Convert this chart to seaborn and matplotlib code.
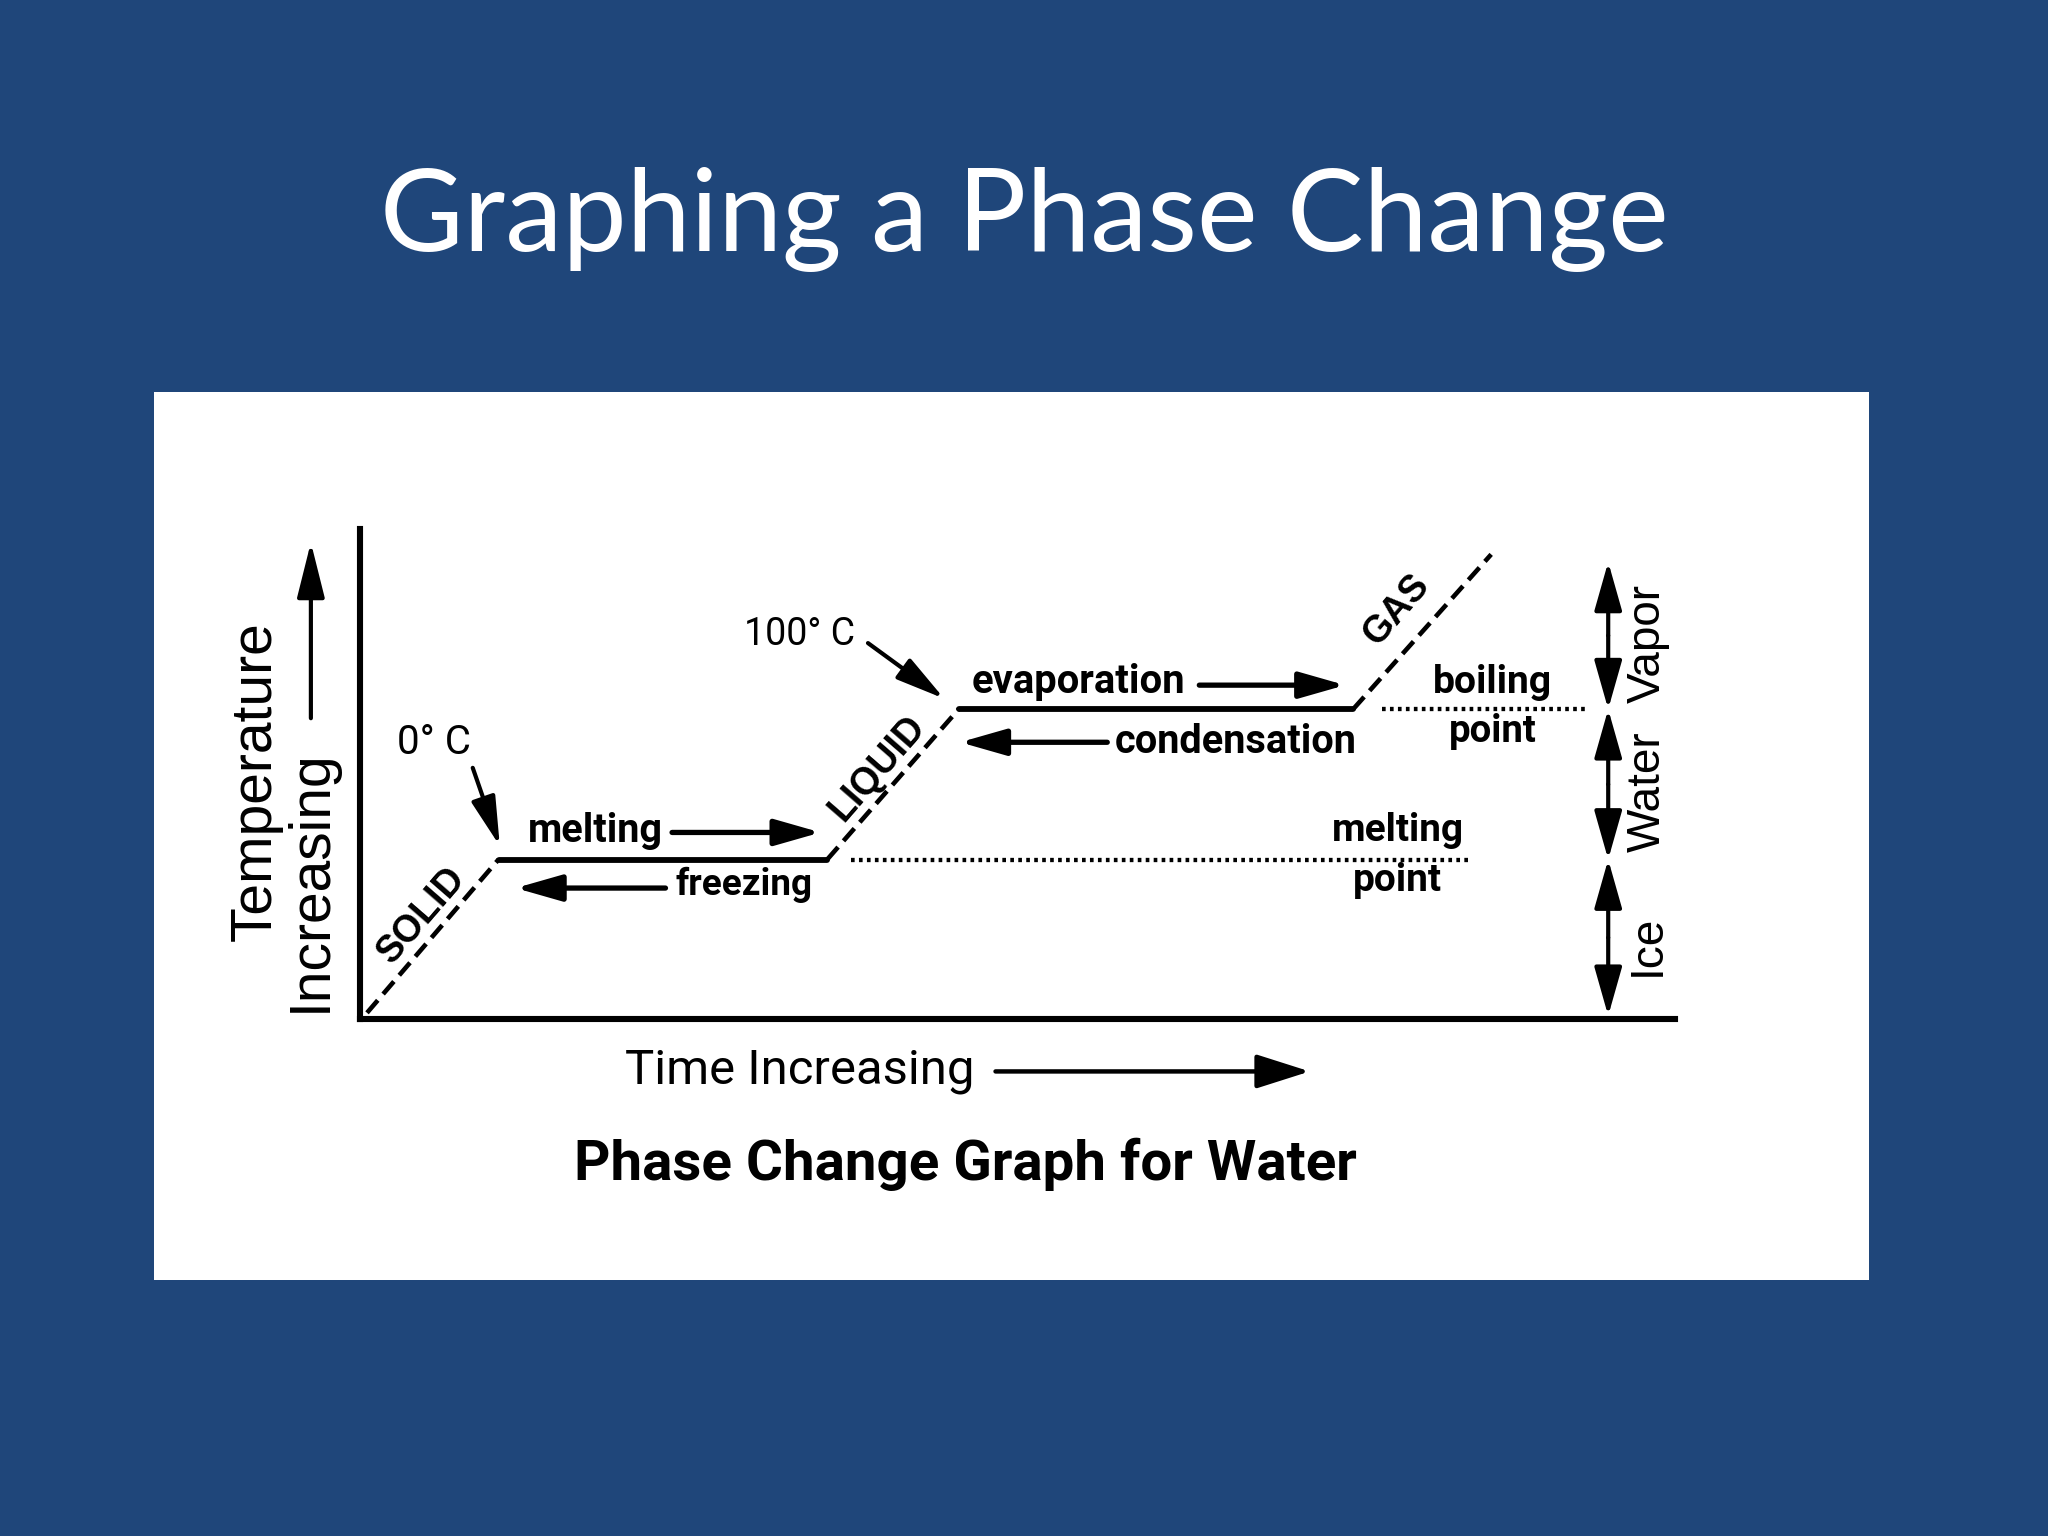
import numpy as np
import pandas as pd
import matplotlib
matplotlib.use("Agg")
import matplotlib.pyplot as plt
import seaborn as sns
from matplotlib.patches import Rectangle

sns.set_theme(style="white")
plt.rcParams['font.family'] = ['Liberation Sans', 'DejaVu Sans']
plt.rcParams['text.color'] = 'black'

# heating curve for water (time in arbitrary units, temperature in deg C)
time = [0.05, 1.05, 3.55, 4.55, 7.55, 8.6]
temp = [-102, 0, 0, 100, 100, 203]
melt_temp = 0
boil_temp = 100
melt_dots = [3.73, 8.43]
boil_dots = [7.77, 9.33]
state_x = 9.49
state_names = ['Vapor', 'Water', 'Ice']
state_bounds = [198, 100, 0, -104]

BG = '#1F467A'
NARROW = ['Roboto', 'DejaVu Sans']
REG = ['Liberation Sans', 'DejaVu Sans']

fig = plt.figure(figsize=(20.48, 15.36), dpi=100)
fig.set_facecolor(BG)
fig.patches.append(Rectangle((0.0752, 0.1667), 0.8374, 0.578, transform=fig.transFigure,
                             facecolor='white', edgecolor='none', zorder=-1))

fig.text(0.5, 1 - 251 / 1536, 'Graphing a Phase Change', color='white', ha='center',
         va='baseline', fontsize=82.5, family=['Lato', 'DejaVu Sans'])

ax = fig.add_axes([0.176, 0.3367, 0.642, 0.319])
ax.patch.set_visible(False)
ax.set_xlim(0, 10)
ax.set_ylim(-106, 220)
ax.set_xticks([])
ax.set_yticks([])
for s in ['top', 'right']:
    ax.spines[s].set_visible(False)
for s in ['left', 'bottom']:
    ax.spines[s].set_linewidth(4.4)
    ax.spines[s].set_color('black')

# curve segments: sloped parts dashed, plateaus solid
for i in range(len(time) - 1):
    seg = pd.DataFrame({'t': time[i:i + 2], 'T': temp[i:i + 2]})
    flat = temp[i] == temp[i + 1]
    sns.lineplot(data=seg, x='t', y='T', ax=ax, color='black',
                 lw=4.2 if flat else 3.3, linestyle='-' if flat else (0, (3.6, 1.8)))
ax.set_xlabel('')
ax.set_ylabel('')

# dotted reference lines
ax.plot(melt_dots, [melt_temp] * 2, color='black', lw=3.1, linestyle=(0, (0.85, 1.0)))
ax.plot(boil_dots, [boil_temp] * 2, color='black', lw=3.1, linestyle=(0, (0.85, 1.0)))

renderer = fig.canvas.get_renderer()


def arrow(x0, y0, x1, y1, lw=3.8, hl=2.8, hw=0.8, style='-|>'):
    ax.annotate('', xy=(x1, y1), xytext=(x0, y0), annotation_clip=False,
                arrowprops=dict(arrowstyle=f'{style},head_length={hl},head_width={hw}',
                                lw=lw, color='black', mutation_scale=10,
                                shrinkA=0, shrinkB=0))


def label(x, y, s, size=30, bold=True, rot=0, fam=None, width=None):
    t = ax.text(x, y, s, ha='center', va='center', fontsize=size, rotation=rot,
                fontweight='bold' if bold else 'normal', color='black',
                family=fam if fam else (NARROW if rot == 0 else REG), clip_on=False,
                rotation_mode='anchor')
    if width:
        # squeeze/stretch the font size so the word spans the same width as the scan
        w = t.get_window_extent(renderer).width
        t.set_fontsize(size * width / w)
    return t


# phase change labels with arrows
label(1.79, 19, 'melting', width=135)
arrow(2.37, 18, 3.50, 18)
label(2.92, -17, 'freezing', width=137)
arrow(2.32, -19, 1.18, -19)
label(5.46, 118, 'evaporation', width=213)
arrow(6.38, 116, 7.49, 116)
label(6.66, 78, 'condensation', width=242)
arrow(5.68, 78, 4.56, 78)

label(8.61, 118, 'boiling', width=119)
label(8.61, 85, 'point', width=88)
label(7.89, 19, 'melting', width=132)
label(7.89, -14, 'point', width=89)

# temperature markers
label(0.556, 78, '0° C', bold=False, width=74)
arrow(0.854, 61, time[1] + 0.01, temp[1] + 9, lw=3.0, hl=3.0, hw=0.75)
label(3.34, 150, '100° C', bold=False, width=111)
arrow(3.86, 144, time[3] - 0.11, temp[3] + 7, lw=3.0, hl=3.0, hw=0.75)

# states along the curve
label(0.47, -37, 'SOLID', size=27, rot=49, fam=REG)
label(3.93, 61, 'LIQUID', size=27, rot=49, fam=REG)
label(7.88, 166, 'GAS', size=27, rot=49, fam=REG)

# state ranges at the right
for i, name in enumerate(state_names):
    top, bot = state_bounds[i], state_bounds[i + 1]
    arrow(state_x, (top + bot) / 2, state_x, top, lw=3.0, hl=3.0, hw=0.85)
    arrow(state_x, (top + bot) / 2, state_x, bot, lw=3.0, hl=3.0, hw=0.85)
    label(9.79, (top + bot) / 2 - 5, name, size=33, bold=False, rot=90, fam=REG)

# axis titles
label(-0.80, 52, 'Temperature', size=41, bold=False, rot=90, fam=REG)
label(-0.377, -14, 'Increasing', size=41, bold=False, rot=90, fam=REG)
arrow(-0.377, 94, -0.377, 211, lw=3.0, hl=3.4, hw=0.85)
label(3.34, -141, 'Time Increasing', bold=False, width=349)
arrow(4.83, -141, 7.22, -141, lw=3.2, hl=3.3, hw=1.05)
label(4.60, -203, 'Phase Change Graph for Water', width=781)

fig.savefig('out.png', dpi=100, facecolor=BG)
